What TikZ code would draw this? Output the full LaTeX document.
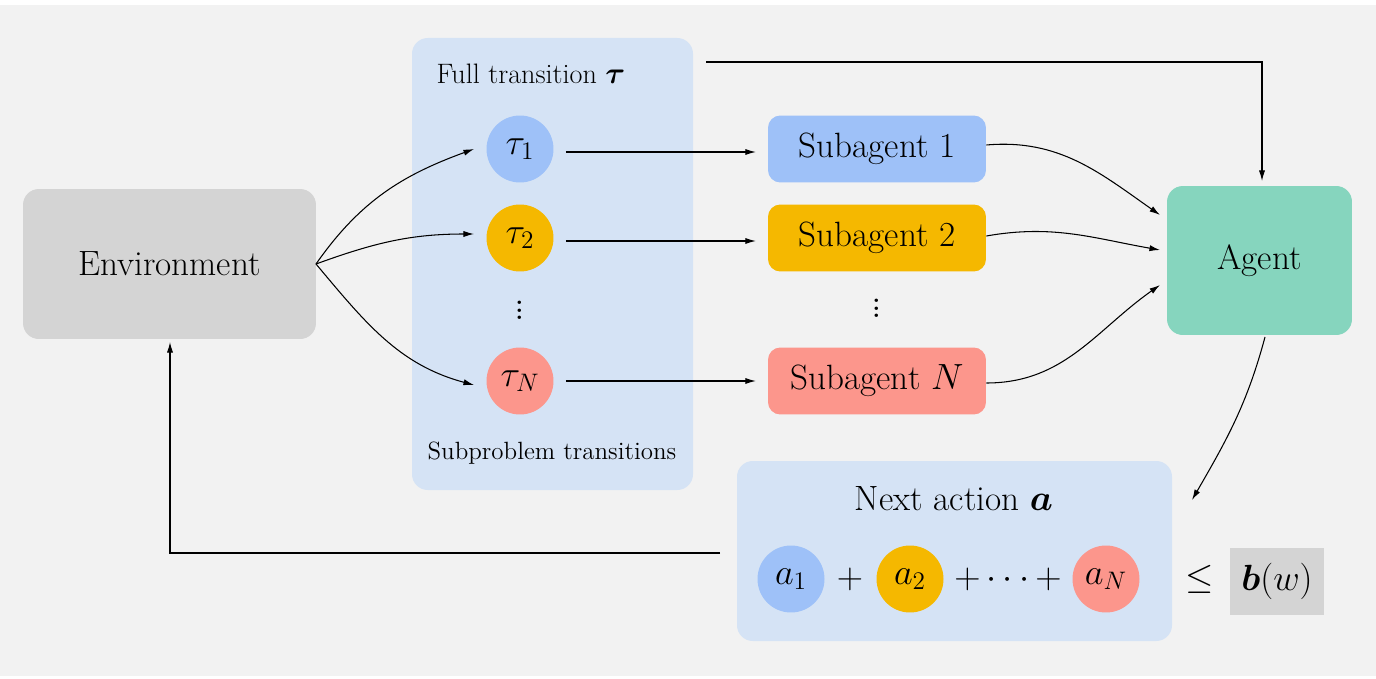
\documentclass[tikz,border=0pt]{standalone}
\usepackage{amsmath,bm}
\usetikzlibrary{arrows.meta}
\definecolor{bg}{HTML}{F2F2F2}
\definecolor{panel}{HTML}{D5E3F5}
\definecolor{envg}{HTML}{D4D4D4}
\definecolor{cblue}{HTML}{9EC1F8}
\definecolor{corange}{HTML}{F5B800}
\definecolor{cred}{HTML}{FC968C}
\definecolor{cgreen}{HTML}{86D5BE}
\begin{document}
\begin{tikzpicture}[x=0.02cm,y=-0.02cm,
  big/.style={font=\fontsize{20}{24}\selectfont},
  circ/.style={circle,minimum size=1.34cm,inner sep=0pt,big},
  sub/.style={rounded corners=7pt,minimum width=4.36cm,minimum height=1.34cm,big,inner sep=0pt},
  arr/.style={-{Latex[length=6pt,width=3.5pt]},line width=0.6pt}]
\fill[white] (0,0) rectangle (1376,679);
\fill[bg] (0,5) rectangle (1376,676);
\useasboundingbox (0,0) rectangle (1376,679);
% panels
\fill[panel,rounded corners=9pt] (412,38) rectangle (693,490);
\fill[panel,rounded corners=9pt] (737,461) rectangle (1172,641);
\node[fill=envg,rounded corners=9pt,minimum width=5.86cm,minimum height=3cm,big] (env) at (169.5,264) {Environment};
\node[fill=cgreen,rounded corners=9pt,minimum width=3.7cm,minimum height=2.98cm,big] (agent) at (1259.5,260.5) {Agent};
\node[font=\fontsize{16}{19}\selectfont] (ft) at (531,74) {Full transition $\bm{\tau}$};
\node[font=\fontsize{14.2}{17}\selectfont] (sp) at (552,453) {Subproblem transitions};
\node[circ,fill=cblue] (t1) at (520,149) {$\tau_1$};
\node[circ,fill=corange] (t2) at (520,238) {$\tau_2$};
\node[font=\fontsize{24}{28}\selectfont] (td) at (520,305) {$\vdots$};
\node[circ,fill=cred] (tN) at (520,381) {$\tau_N$};
\node[sub,fill=cblue] (s1) at (877,149) {Subagent 1};
\node[sub,fill=corange] (s2) at (877,238) {Subagent 2};
\node[font=\fontsize{24}{28}\selectfont] (sd) at (877,303) {$\vdots$};
\node[sub,fill=cred] (sN) at (877,381) {Subagent $N$};
\node[big] (na) at (954,499) {Next action $\bm{a}$};
\node[circ,fill=cblue] (a1) at (791,579) {$a_1$};
\node[big] (p1) at (850,579) {$+$};
\node[circ,fill=corange] (a2) at (910,579) {$a_2$};
\node[big] (p2) at (1008,579) {$+\cdots+$};
\node[circ,fill=cred] (aN) at (1106,579) {$a_N$};
\node[big] (le) at (1200,579) {$\leq$};
\node[fill=envg,minimum width=1.88cm,minimum height=1.34cm,big] (b) at (1277,581.5) {$\bm{b}(w)$};
% coordinates
\coordinate (eo) at (316,264);
\coordinate (t1i) at (474,149); \coordinate (t2i) at (474,234); \coordinate (tNi) at (474,385);
\coordinate (ai1) at (1160,215); \coordinate (ai2) at (1160,250); \coordinate (aiN) at (1160,285);
\coordinate (top0) at (706,62); \coordinate (top1) at (1262,62); \coordinate (top2) at (1262,181);
\coordinate (ag0) at (1265,337); \coordinate (ag1) at (1192,500);
\coordinate (bo0) at (720,553); \coordinate (bo1) at (170,553); \coordinate (bo2) at (170,342);
% arrows
\draw[arr] (eo) to[out=55,in=200] (t1i);
\draw[arr] (eo) to[out=20,in=180] (t2i);
\draw[arr] (eo) to[out=-50,in=165] (tNi);
\draw[arr] (t1.east)++(12,3) -- ++(190,0);
\draw[arr] (t2.east)++(12,3) -- ++(190,0);
\draw[arr] (tN.east)++(12,0) -- ++(190,0);
\draw[arr] (s1.east)++(0,-4) to[out=5,in=145] (ai1);
\draw[arr] (s2.east)++(0,-2) to[out=10,in=170] (ai2);
\draw[arr] (sN.east)++(0,2) to[out=0,in=215] (aiN);
\draw[arr] (top0) -- (top1) -- (top2);
\draw[arr] (ag0) to[out=-105,in=60] (ag1);
\draw[arr] (bo0) -- (bo1) -- (bo2);
\end{tikzpicture}
\end{document}
